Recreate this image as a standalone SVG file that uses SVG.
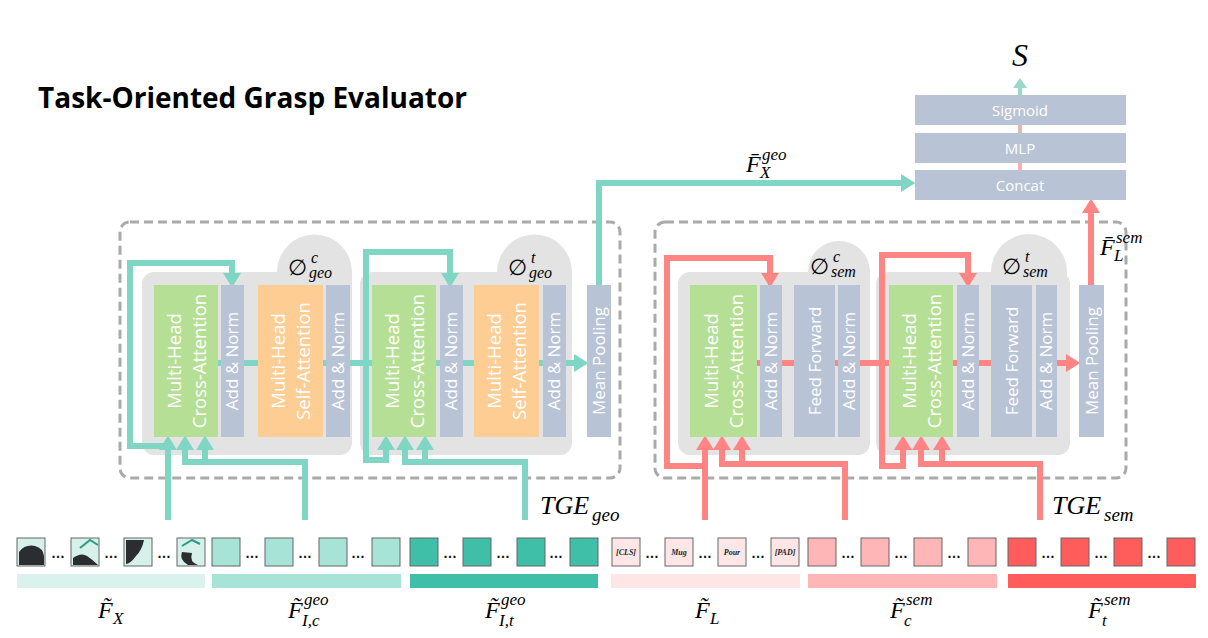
<svg xmlns="http://www.w3.org/2000/svg" width="1208" height="638" viewBox="0 0 1208 638">
<style>
.dash{fill:none;stroke:#aaa;stroke-width:3;stroke-dasharray:9 5}
.blk{fill:#e3e3e3}
.g{fill:#b5df94}.o{fill:#fdcd94}.b{fill:#b8c3d6}
.vt{font-family:"Open Sans","Noto Sans",sans-serif;font-size:17px;fill:#fff;text-anchor:middle}
.vb{font-family:"Open Sans","Noto Sans",sans-serif;font-size:18.5px;fill:#fff;text-anchor:middle}
.ht{font-family:"Open Sans","Noto Sans",sans-serif;font-size:15px;fill:#fff;text-anchor:middle}
.m{font-family:"Liberation Serif",serif;font-style:italic;fill:#000}
.phi{font-family:"DejaVu Sans",sans-serif;font-size:22px;fill:#000}
.tl{fill:none;stroke:#7fd6c4;stroke-width:6}
.rl{fill:none;stroke:#ff8585;stroke-width:6}
.dots{font-family:"Liberation Sans",sans-serif;font-size:14px;font-weight:bold;fill:#111}
.tok{font-family:"Liberation Serif",serif;font-style:italic;font-weight:bold;font-size:8px;fill:#222;text-anchor:middle}
</style>
<defs>
<marker id="at" markerWidth="3" markerHeight="3" refX="1" refY="1.5" orient="auto" markerUnits="strokeWidth"><path d="M0,0L2.4,1.5L0,3z" fill="#7fd6c4"/></marker>
<marker id="ar" markerWidth="3" markerHeight="3" refX="1" refY="1.5" orient="auto" markerUnits="strokeWidth"><path d="M0,0L2.4,1.5L0,3z" fill="#ff8585"/></marker>
</defs>
<rect width="1208" height="638" fill="#fff"/>
<text x="38" y="108" font-family="Open Sans,Noto Sans,sans-serif" font-weight="bold" font-size="28">Task-Oriented Grasp Evaluator</text>

<g id="tge_geo">
<rect class="dash" x="120" y="222" width="500" height="256" rx="10"/>
<text class="m" x="540" y="514" font-size="26">TGE</text><text class="m" x="592" y="521" font-size="19">geo</text>
</g>
<g id="tge_sem">
<rect class="dash" x="655" y="222" width="471" height="256" rx="10"/>
<text class="m" x="1052" y="514" font-size="26">TGE</text><text class="m" x="1104" y="521" font-size="19">sem</text>
</g>

<g id="phi_c_geo">
<path class="blk" d="M277,290 V272 a37,37 0 0 1 75,0 V290z"/>
<rect class="blk" x="142" y="272" width="210" height="183" rx="12"/>
<text class="phi" x="288" y="275">∅</text><text class="m" x="311" y="263" font-size="16">c</text><text class="m" x="309" y="278" font-size="16">geo</text>
</g>
<g id="phi_t_geo">
<path class="blk" d="M497,290 V272 a37,37 0 0 1 75,0 V290z"/>
<rect class="blk" x="360" y="272" width="212" height="183" rx="12"/>
<text class="phi" x="508" y="275">∅</text><text class="m" x="531" y="263" font-size="16">t</text><text class="m" x="529" y="278" font-size="16">geo</text>
</g>
<g id="phi_c_sem">
<path class="blk" d="M808,290 V272 a31,31 0 0 1 62,0 V290z"/>
<rect class="blk" x="678" y="272" width="192" height="183" rx="12"/>
<text class="phi" x="810" y="274">∅</text><text class="m" x="833" y="262" font-size="16">c</text><text class="m" x="831" y="277" font-size="16">sem</text>
</g>
<g id="phi_t_sem">
<path class="blk" d="M991,290 V272 a38,38 0 0 1 76,0 V290z"/>
<rect class="blk" x="876" y="272" width="194" height="183" rx="12"/>
<text class="phi" x="1002" y="274">∅</text><text class="m" x="1025" y="262" font-size="16">t</text><text class="m" x="1023" y="277" font-size="16">sem</text>
</g>

<g id="connectors">
<path class="tl" d="M218,363H258M323,363H372M436,363H474"/>
<path class="tl" d="M539,363H580" marker-end="url(#at)"/>
<path class="tl" d="M168,520V444" marker-end="url(#at)"/>
<path class="tl" d="M168,446H130V263H232V279" marker-end="url(#at)"/>
<path class="tl" d="M305,520V462H185V444" marker-end="url(#at)"/>
<path class="tl" d="M205,462V444" marker-end="url(#at)"/>
<path class="tl" d="M366,363V460H386V444" marker-end="url(#at)"/>
<path class="tl" d="M366,363V252H450V279" marker-end="url(#at)"/>
<path class="tl" d="M525,520V462H405V444" marker-end="url(#at)"/>
<path class="tl" d="M425,462V444" marker-end="url(#at)"/>
<path class="tl" d="M599,285V183H907" marker-end="url(#at)"/>
<path class="rl" d="M757,363H794M835,363H889M953,363H991"/>
<path class="rl" d="M1057,363H1072" marker-end="url(#ar)"/>
<path class="rl" d="M705,520V444" marker-end="url(#ar)"/>
<path class="rl" d="M705,466H667V258H770V279" marker-end="url(#ar)"/>
<path class="rl" d="M845,520V464H722V444" marker-end="url(#ar)"/>
<path class="rl" d="M742,464V444" marker-end="url(#ar)"/>
<path class="rl" d="M882,363V466H903V444" marker-end="url(#ar)"/>
<path class="rl" d="M882,363V255H968V279" marker-end="url(#ar)"/>
<path class="rl" d="M1040,520V464H921V444" marker-end="url(#ar)"/>
<path class="rl" d="M942,464V444" marker-end="url(#ar)"/>
<path class="rl" d="M1091,285V207" marker-end="url(#ar)"/>
<path d="M1020,163V170" stroke="#ffadad" stroke-width="4"/>
<path d="M1020,125V133" stroke="#e0b8b0" stroke-width="4"/>
<path d="M1020,95V86" stroke="#9ad9c8" stroke-width="4" fill="none"/>
<path d="M1013,88L1020,78L1027,88z" fill="#9ad9c8"/>
<text class="m" x="746" y="172" font-size="24">F̄</text><text class="m" x="762" y="160" font-size="17">geo</text><text class="m" x="760" y="178" font-size="17">X</text>
<text class="m" x="1100" y="255" font-size="24">F̄</text><text class="m" x="1116" y="243" font-size="17">sem</text><text class="m" x="1114" y="261" font-size="17">L</text>
</g>

<g id="cross_c_geo"><rect class="g" x="154" y="285" width="64" height="152"/><text class="vb" transform="translate(186,361) rotate(-90)"><tspan x="0" dy="-5">Multi-Head</tspan><tspan x="0" dy="25">Cross-Attention</tspan></text></g>
<g id="an1_c_geo"><rect class="b" x="221" y="285" width="23" height="152"/><text class="vt" transform="translate(238,361) rotate(-90)">Add &amp; Norm</text></g>
<g id="self_c_geo"><rect class="o" x="258" y="285" width="65" height="152"/><text class="vb" transform="translate(290,361) rotate(-90)"><tspan x="0" dy="-5">Multi-Head</tspan><tspan x="0" dy="25">Self-Attention</tspan></text></g>
<g id="an2_c_geo"><rect class="b" x="326" y="285" width="24" height="152"/><text class="vt" transform="translate(344,361) rotate(-90)">Add &amp; Norm</text></g>
<g id="cross_t_geo"><rect class="g" x="372" y="285" width="64" height="152"/><text class="vb" transform="translate(404,361) rotate(-90)"><tspan x="0" dy="-5">Multi-Head</tspan><tspan x="0" dy="25">Cross-Attention</tspan></text></g>
<g id="an1_t_geo"><rect class="b" x="440" y="285" width="23" height="152"/><text class="vt" transform="translate(457,361) rotate(-90)">Add &amp; Norm</text></g>
<g id="self_t_geo"><rect class="o" x="474" y="285" width="65" height="152"/><text class="vb" transform="translate(506,361) rotate(-90)"><tspan x="0" dy="-5">Multi-Head</tspan><tspan x="0" dy="25">Self-Attention</tspan></text></g>
<g id="an2_t_geo"><rect class="b" x="543" y="285" width="23" height="152"/><text class="vt" transform="translate(560,361) rotate(-90)">Add &amp; Norm</text></g>
<g id="pool_geo"><rect class="b" x="587" y="285" width="24" height="152"/><text class="vt" transform="translate(605,361) rotate(-90)">Mean Pooling</text></g>

<g id="cross_c_sem"><rect class="g" x="690" y="285" width="67" height="152"/><text class="vb" transform="translate(723,361) rotate(-90)"><tspan x="0" dy="-5">Multi-Head</tspan><tspan x="0" dy="25">Cross-Attention</tspan></text></g>
<g id="an1_c_sem"><rect class="b" x="760" y="285" width="22" height="152"/><text class="vt" transform="translate(777,361) rotate(-90)">Add &amp; Norm</text></g>
<g id="ff_c_sem"><rect class="b" x="794" y="285" width="41" height="152"/><text class="vt" transform="translate(821,361) rotate(-90)">Feed Forward</text></g>
<g id="an2_c_sem"><rect class="b" x="838" y="285" width="22" height="152"/><text class="vt" transform="translate(855,361) rotate(-90)">Add &amp; Norm</text></g>
<g id="cross_t_sem"><rect class="g" x="889" y="285" width="64" height="152"/><text class="vb" transform="translate(921,361) rotate(-90)"><tspan x="0" dy="-5">Multi-Head</tspan><tspan x="0" dy="25">Cross-Attention</tspan></text></g>
<g id="an1_t_sem"><rect class="b" x="957" y="285" width="22" height="152"/><text class="vt" transform="translate(974,361) rotate(-90)">Add &amp; Norm</text></g>
<g id="ff_t_sem"><rect class="b" x="991" y="285" width="41" height="152"/><text class="vt" transform="translate(1018,361) rotate(-90)">Feed Forward</text></g>
<g id="an2_t_sem"><rect class="b" x="1036" y="285" width="21" height="152"/><text class="vt" transform="translate(1052,361) rotate(-90)">Add &amp; Norm</text></g>
<g id="pool_sem"><rect class="b" x="1079" y="285" width="25" height="152"/><text class="vt" transform="translate(1098,361) rotate(-90)">Mean Pooling</text></g>

<g id="head">
<rect class="b" x="915" y="95" width="211" height="30"/>
<rect class="b" x="915" y="133" width="211" height="30"/>
<rect class="b" x="915" y="170" width="211" height="30"/>
<text class="ht" x="1020" y="116">Sigmoid</text>
<text class="ht" x="1020" y="154">MLP</text>
<text class="ht" x="1020" y="191">Concat</text>
<text class="m" x="1020" y="66" font-size="32" text-anchor="middle">S</text>
</g>

<g id="tokens">
<g stroke="#666" stroke-width="1">
<rect x="17" y="538" width="28" height="28" fill="#d6f0ea"/><rect x="71" y="538" width="28" height="28" fill="#d6f0ea"/><rect x="124" y="538" width="28" height="28" fill="#d6f0ea"/><rect x="177" y="538" width="28" height="28" fill="#d6f0ea"/>
<rect x="212" y="538" width="28" height="28" fill="#a8e3d8"/><rect x="265" y="538" width="28" height="28" fill="#a8e3d8"/><rect x="319" y="538" width="28" height="28" fill="#a8e3d8"/><rect x="372" y="538" width="28" height="28" fill="#a8e3d8"/>
<rect x="410" y="538" width="28" height="28" fill="#3fbfa8"/><rect x="463" y="538" width="28" height="28" fill="#3fbfa8"/><rect x="517" y="538" width="28" height="28" fill="#3fbfa8"/><rect x="570" y="538" width="28" height="28" fill="#3fbfa8"/>
<rect x="612" y="538" width="28" height="28" fill="#ffe6e6"/><rect x="665" y="538" width="28" height="28" fill="#ffe6e6"/><rect x="718" y="538" width="28" height="28" fill="#ffe6e6"/><rect x="771" y="538" width="28" height="28" fill="#ffe6e6"/>
<rect x="808" y="538" width="28" height="28" fill="#ffb6b6"/><rect x="861" y="538" width="28" height="28" fill="#ffb6b6"/><rect x="914" y="538" width="28" height="28" fill="#ffb6b6"/><rect x="968" y="538" width="28" height="28" fill="#ffb6b6"/>
<rect x="1008" y="538" width="28" height="28" fill="#ff5c5c"/><rect x="1061" y="538" width="28" height="28" fill="#ff5c5c"/><rect x="1114" y="538" width="28" height="28" fill="#ff5c5c"/><rect x="1167" y="538" width="28" height="28" fill="#ff5c5c"/>
</g>
<g fill="#2a2e30">
<path d="M19,552 q6,-8 16,-6 q8,2 9,10 V565 H19z"/>
<path d="M73,558 q8,-6 14,-2 q6,4 11,9 H73z"/><path d="M80,548 l10,-8 l8,5" stroke="#2a9a85" stroke-width="2" fill="none"/>
<path d="M126,540 h18 q-2,10 -8,16 q-6,8 -10,8z"/>
<path d="M182,552 q-3,8 6,13 h10 q-9,-3 -6,-12z"/><path d="M182,546 l10,-6 l8,4" stroke="#2a9a85" stroke-width="2" fill="none"/>
</g>
<g class="dots">
<text x="51" y="558">…</text><text x="104" y="558">…</text><text x="157" y="558">…</text>
<text x="245" y="558">…</text><text x="298" y="558">…</text><text x="351" y="558">…</text>
<text x="443" y="558">…</text><text x="496" y="558">…</text><text x="549" y="558">…</text>
<text x="645" y="558">…</text><text x="698" y="558">…</text><text x="751" y="558">…</text>
<text x="841" y="558">…</text><text x="894" y="558">…</text><text x="947" y="558">…</text>
<text x="1041" y="558">…</text><text x="1094" y="558">…</text><text x="1147" y="558">…</text>
</g>
<text class="tok" x="626" y="555">[CLS]</text><text class="tok" x="679" y="555">Mug</text><text class="tok" x="732" y="555">Pour</text><text class="tok" x="785" y="555">[PAD]</text>
<rect x="17" y="574" width="188" height="14" fill="#d9f2ee"/>
<rect x="212" y="574" width="189" height="14" fill="#a8e3d8"/>
<rect x="410" y="574" width="188" height="14" fill="#3fbfa8"/>
<rect x="611" y="574" width="189" height="14" fill="#ffe6e6"/>
<rect x="808" y="574" width="189" height="14" fill="#ffb6b6"/>
<rect x="1008" y="574" width="188" height="14" fill="#ff5c5c"/>
<text class="m" x="98" y="618" font-size="24">F̃</text><text class="m" x="113" y="624" font-size="17">X</text>
<text class="m" x="288" y="618" font-size="24">F̃</text><text class="m" x="304" y="605" font-size="17">geo</text><text class="m" x="302" y="626" font-size="17">I,c</text>
<text class="m" x="485" y="618" font-size="24">F̃</text><text class="m" x="501" y="605" font-size="17">geo</text><text class="m" x="499" y="626" font-size="17">I,t</text>
<text class="m" x="695" y="618" font-size="24">F̃</text><text class="m" x="710" y="624" font-size="17">L</text>
<text class="m" x="890" y="618" font-size="24">F̃</text><text class="m" x="906" y="605" font-size="17">sem</text><text class="m" x="904" y="626" font-size="17">c</text>
<text class="m" x="1088" y="618" font-size="24">F̃</text><text class="m" x="1104" y="605" font-size="17">sem</text><text class="m" x="1102" y="626" font-size="17">t</text>
</g>
</svg>
